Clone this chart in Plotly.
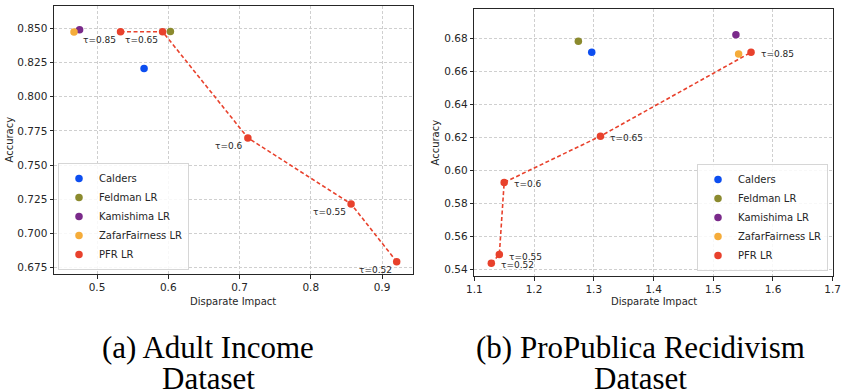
import plotly.graph_objects as go

# ---------------- data ----------------
series_names = ["Calders", "Feldman LR", "Kamishima LR", "ZafarFairness LR", "PFR LR"]
series_colors = ["#0d4ef0", "#8b8a2e", "#7a2a8a", "#f5ac3a", "#e8412c"]

# (a) Adult Income
adult_baseline_x = [0.566, 0.603, 0.4755, 0.4677]
adult_baseline_y = [0.8206, 0.8476, 0.8490, 0.8473]
adult_pfr_x = [0.533, 0.592, 0.7117, 0.8566, 0.9206]
adult_pfr_y = [0.8475, 0.8475, 0.7699, 0.7216, 0.6794]
adult_pfr_tau = ["τ=0.85", "τ=0.65", "τ=0.6", "τ=0.55", "τ=0.52"]

# (b) ProPublica Recidivism
compas_baseline_x = [1.2966, 1.2742, 1.538, 1.5425]
compas_baseline_y = [0.6717, 0.6784, 0.6824, 0.6707]
compas_pfr_x = [1.1285, 1.1419, 1.150, 1.3112, 1.5633]
compas_pfr_y = [0.5436, 0.5489, 0.5927, 0.6208, 0.6717]
compas_pfr_tau = ["τ=0.52", "τ=0.55", "τ=0.6", "τ=0.65", "τ=0.85"]

adult_xticks = [0.5, 0.6, 0.7, 0.8, 0.9]
adult_yticks = [0.675, 0.700, 0.725, 0.750, 0.775, 0.800, 0.825, 0.850]
compas_xticks = [1.1, 1.2, 1.3, 1.4, 1.5, 1.6, 1.7]
compas_yticks = [0.54, 0.56, 0.58, 0.60, 0.62, 0.64, 0.66, 0.68]

captions_line1 = ["(a) Adult Income", "(b) ProPublica Recidivism"]
captions_line2 = ["Dataset", "Dataset"]
x_title = "Disparate Impact"
y_title = "Accuracy"

# ---------------- figure ----------------
W, H = 846, 391
FONT = "DejaVu Sans"
TXT = "#262626"

fig = go.Figure()

def add_panel(bx, by, px, py, xa, ya, legend_name):
    # dashed connecting line for PFR
    fig.add_trace(go.Scatter(x=px, y=py, mode="lines", xaxis=xa, yaxis=ya,
                             line=dict(color=series_colors[4], width=1.6, dash="4px,2.5px"),
                             showlegend=False, hoverinfo="skip"))
    for i in range(4):
        fig.add_trace(go.Scatter(x=[bx[i]], y=[by[i]], mode="markers", name=series_names[i],
                                 xaxis=xa, yaxis=ya, legend=legend_name, legendrank=i + 1,
                                 marker=dict(color=series_colors[i], size=7.5)))
    fig.add_trace(go.Scatter(x=px, y=py, mode="markers", name=series_names[4],
                             xaxis=xa, yaxis=ya, legend=legend_name, legendrank=5,
                             marker=dict(color=series_colors[4], size=7.5)))

add_panel(adult_baseline_x, adult_baseline_y, adult_pfr_x, adult_pfr_y, "x", "y", "legend")
add_panel(compas_baseline_x, compas_baseline_y, compas_pfr_x, compas_pfr_y, "x2", "y2", "legend2")

axis_common = dict(showline=True, mirror=True, linecolor=TXT, linewidth=1,
                   ticks="outside", ticklen=3.5, tickwidth=1, tickcolor=TXT,
                   showgrid=True, gridcolor="#cfcfcf", gridwidth=0.8, griddash="3px,2px",
                   zeroline=False, automargin=False,
                   tickfont=dict(family=FONT, size=10.5, color=TXT))

fig.update_layout(
    template="none",
    width=W, height=H,
    margin=dict(l=0, r=0, t=0, b=0, pad=0, autoexpand=False),
    paper_bgcolor="white", plot_bgcolor="white",
    font=dict(family=FONT, size=10, color=TXT),
    xaxis=dict(domain=[54 / W, 413 / W], range=[0.4396, 0.9435], anchor="y",
               tickvals=adult_xticks, tickformat=".1f", **axis_common),
    yaxis=dict(domain=[1 - 274 / H, 1 - 6 / H], range=[0.6704, 0.8663], anchor="x",
               tickvals=adult_yticks, tickformat=".3f", **axis_common),
    xaxis2=dict(domain=[474.3 / W, 832.7 / W], range=[1.1, 1.7], anchor="y2",
                tickvals=compas_xticks, tickformat=".1f", **axis_common),
    yaxis2=dict(domain=[1 - 276 / H, 1 - 9 / H], range=[0.5359, 0.698], anchor="x2",
                tickvals=compas_yticks, tickformat=".2f", **axis_common),
    legend=dict(x=58 / W, y=1 - 270 / H, xanchor="left", yanchor="bottom",
                bgcolor="rgba(255,255,255,0.85)", bordercolor="#d6d6d6", borderwidth=1,
                font=dict(family=FONT, size=10, color=TXT), itemwidth=30, tracegroupgap=0),
    legend2=dict(x=828 / W, y=1 - 271 / H, xanchor="right", yanchor="bottom",
                 bgcolor="rgba(255,255,255,0.85)", bordercolor="#d6d6d6", borderwidth=1,
                 font=dict(family=FONT, size=10, color=TXT), itemwidth=30, tracegroupgap=0),
)

ann = []
# tau labels
for x, y, t in zip(adult_pfr_x, adult_pfr_y, adult_pfr_tau):
    ann.append(dict(x=x, y=y, xref="x", yref="y", text=t, showarrow=False,
                    xanchor="right", yanchor="middle", xshift=-3, yshift=-8,
                    font=dict(family=FONT, size=9, color=TXT)))
for x, y, t in zip(compas_pfr_x, compas_pfr_y, compas_pfr_tau):
    ann.append(dict(x=x, y=y, xref="x2", yref="y2", text=t, showarrow=False,
                    xanchor="left", yanchor="middle", xshift=8, yshift=-2,
                    font=dict(family=FONT, size=9, color=TXT)))

# axis titles
for cx in [233.5 / W, 653.5 / W]:
    ann.append(dict(x=cx, y=1 - 301 / H, xref="paper", yref="paper", text=x_title,
                    showarrow=False, xanchor="center", yanchor="middle",
                    font=dict(family=FONT, size=10, color=TXT)))
for cx, cy in [(9.5 / W, 1 - 140 / H), (435 / W, 1 - 142.5 / H)]:
    ann.append(dict(x=cx, y=cy, xref="paper", yref="paper", text=y_title, textangle=-90,
                    showarrow=False, xanchor="center", yanchor="middle",
                    font=dict(family=FONT, size=10, color=TXT)))

# captions
for cx, l1, l2 in zip([208 / W, 640 / W], captions_line1, captions_line2):
    ann.append(dict(x=cx, y=1 - 347 / H, xref="paper", yref="paper", text=l1,
                    showarrow=False, xanchor="center", yanchor="middle",
                    font=dict(family="Liberation Serif", size=31, color="black")))
    ann.append(dict(x=cx, y=1 - 378 / H, xref="paper", yref="paper", text=l2,
                    showarrow=False, xanchor="center", yanchor="middle",
                    font=dict(family="Liberation Serif", size=31, color="black")))

fig.update_layout(annotations=ann)
fig.write_html(
    "out.html",
    config={"displayModeBar": False},
    post_script="document.body.style.margin='0px';document.body.style.padding='0px';"
                "document.documentElement.style.overflow='hidden';",
)
